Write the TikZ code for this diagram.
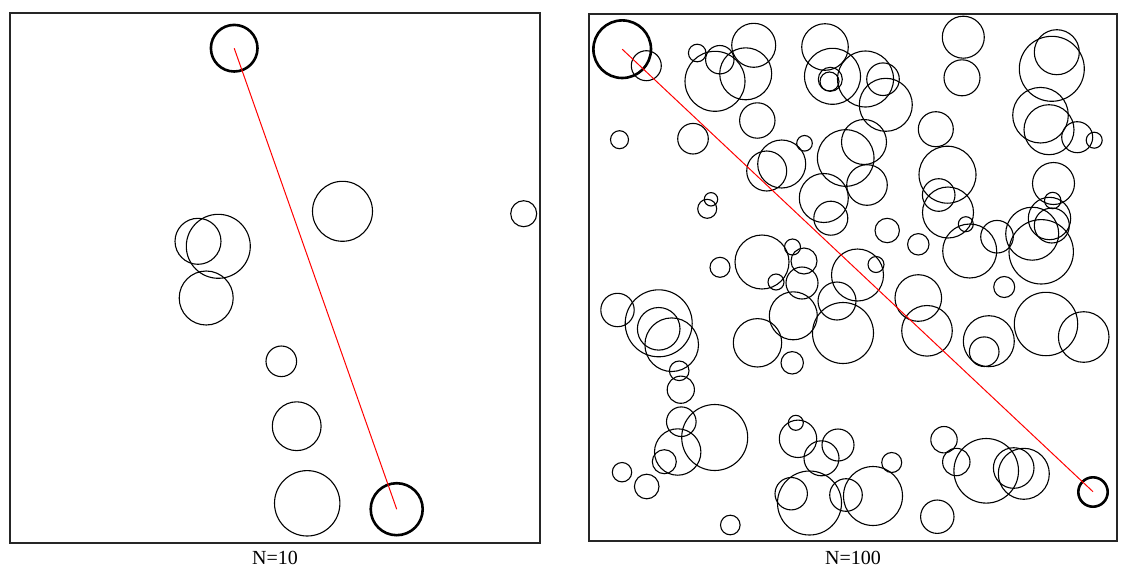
\documentclass[tikz,border=0pt]{standalone}
\usepackage{fontspec}
\setmainfont{Liberation Serif}
\begin{document}
\begin{tikzpicture}[x=1pt,y=-1pt,
  ring/.style={draw=black,line width=1.1pt},
  endring/.style={draw=black,line width=2.6pt},
  frame/.style={draw=black!85,line width=1.3pt},
  path/.style={draw=red,line width=1pt},
  lbl/.style={font=\fontsize{20}{24}\selectfont,anchor=base,inner sep=0pt}]
\useasboundingbox (0,0) rectangle (1129,571);
% frames
\draw[frame] (10,13) rectangle (540,543);
\draw[frame] (589,14) rectangle (1117,541);
% ---------- N=10 ----------
\foreach \x/\y/\r in {198/241.3/23, 218.3/246.3/32, 206.2/298/27, 342.5/211.3/30,
  523.7/213.7/13, 281.3/361.3/15.3, 296.7/426.2/24.4, 307.2/503.3/32.7}
  \draw[ring] (\x,\y) circle[radius=\r pt];
\draw[endring] (234.2,48.2) circle[radius=23.3pt];
\draw[endring] (396.7,509.2) circle[radius=26pt];
\coordinate (s1) at (234.2,48.2);
\coordinate (e1) at (396.7,509.2);
\draw[path] (s1) -- (e1);
\node[lbl] (n10) at (275,564) {N=10};
% ---------- N=100 ----------
\foreach \x/\y/\r in {
  646.3/65.7/15, 697.2/53/8.8, 719.8/59.7/14.2, 715/81.3/30, 753.7/45.3/22,
  745.7/73.8/26, 757.3/120.5/17.7, 619.5/139.7/9, 693/138.7/15.3, 804.5/143.3/7.8,
  766.7/171/20, 781.7/164/24, 711/199.3/6.7, 707.2/208.8/9.5, 825/47/23.3,
  832.5/76.3/28, 830.3/79.3/12, 829.5/81.5/9.5, 823.8/198/24.5, 830.8/218.2/17,
  762/262/27, 720/267.3/10, 792.5/247/8, 804/261/13,
  963.3/37.2/21, 962/77.8/18, 1056.8/52.2/22.5, 1051.8/68.8/32.5, 1040.5/115.2/27.8,
  1049/129.7/25, 1077.2/137.2/15.5, 1094.2/140.2/8, 865.5/79/28, 883/79.2/16.3,
  885.8/104.8/26.5, 935.8/129.2/17.5, 864/142/22.5, 845.7/158/28.3, 867/185/20.3,
  947.5/174.7/28.5, 938.7/195/16.3, 948/212.5/25.5, 1053.5/183.5/21, 1052.7/200.5/8.2,
  1049.5/218.5/21.2, 1051.8/225.5/17.5, 1032.2/233.7/26.5, 1041.2/251.8/32.2,
  965.8/224.2/7.5, 997/236.7/16.3, 969.7/251/27, 887.2/230.5/12.2, 918.3/244.3/10.7,
  876/264.5/8, 857.5/275/26,
  1004.2/287/10.5, 918.3/298/23.3, 927/330.8/25.3, 843/333/30.5, 988.8/341.2/25.5,
  984.2/351.7/14.8, 1046/324/31.7, 1083.7/337/25.3, 944/439.7/13.2, 956.3/462/13.7,
  986.2/470.8/32.3, 1013.7/468/20.3, 1023.8/473.8/25.5, 937.3/516.7/16.7,
  891.7/462.5/10, 873/496/29.5, 846/495/16.3,
  617.5/310/16.7, 658.7/323.3/33.5, 658.7/328.8/21.3, 671.7/344.7/26.8, 679.2/370.8/9.8,
  680.8/389.7/13.6, 681.3/421.7/14.8, 714.7/437.5/33, 677.7/452/23.2, 664.3/461.7/12,
  622/472.2/9.7, 646.7/486.5/12.3, 730.3/525/9.8, 757.5/342.8/24.2, 792.2/362.8/11.2,
  793.3/315.8/24, 776/282/8, 802/283/16, 837/301/19, 798/438.8/18.7,
  795.8/422.8/7.5, 838/445/16, 821.5/458.3/17.5, 791.2/493.7/16.2, 809.5/503/32}
  \draw[ring] (\x,\y) circle[radius=\r pt];
\draw[endring] (622.2,49.2) circle[radius=28.8pt];
\draw[endring] (1093,492) circle[radius=14.7pt];
\coordinate (s2) at (622.2,49.2);
\coordinate (e2) at (1093,491.7);
\draw[path] (s2) -- (e2);
\node[lbl] (n100) at (853,564) {N=100};
\end{tikzpicture}
\end{document}
